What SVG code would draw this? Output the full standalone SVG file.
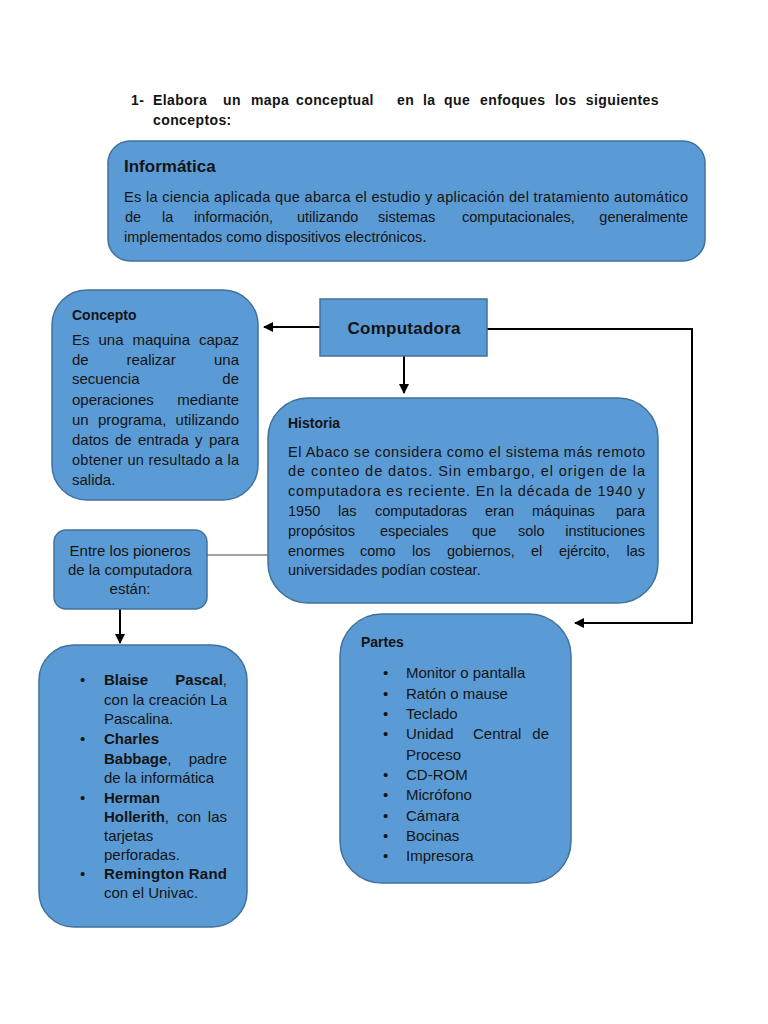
<svg xmlns="http://www.w3.org/2000/svg" width="768" height="1024" viewBox="0 0 768 1024">
<style>
  .box { fill: #5B9BD5; stroke: #41719C; stroke-width: 1.5; }
  .t { font-family: "Liberation Sans", Arial, sans-serif; font-size: 14.5px; fill: #141414; }
  .s15 { font-size: 15px; }
  .b { font-weight: bold; }
  .h { font-family: "Liberation Sans", Arial, sans-serif; font-size: 14px; font-weight: bold; fill: #141414; }
  .title { font-family: "Liberation Sans", Arial, sans-serif; font-size: 14px; font-weight: bold; fill: #141414; letter-spacing: 0.4px; }
  .conn { stroke: #000; stroke-width: 2; fill: none; }
  .thin { stroke: #444; stroke-width: 1; fill: none; }
  .end { text-anchor: end; }
  .mid { text-anchor: middle; }
</style>
<defs>
  <marker id="arr" viewBox="0 0 10 10" refX="9" refY="5" markerWidth="5" markerHeight="5" orient="auto" markerUnits="strokeWidth">
    <path d="M0,0 L10,5 L0,10 z" fill="#000"/>
  </marker>
</defs>
<rect width="768" height="1024" fill="#fff"/>

<g id="title">
  <text class="title" x="131" y="105">1-</text>
  <text class="title" x="153" y="105">Elabora</text>
  <text class="title" x="223" y="105">un</text>
  <text class="title" x="251" y="105">mapa</text>
  <text class="title" x="296" y="105">conceptual</text>
  <text class="title" x="397" y="105">en</text>
  <text class="title" x="423" y="105">la</text>
  <text class="title" x="444" y="105">que</text>
  <text class="title" x="480" y="105">enfoques</text>
  <text class="title" x="555" y="105">los</text>
  <text class="title end" x="659" y="105">siguientes</text>
  <text class="title" x="153" y="125">conceptos:</text>
</g>

<g id="connectors">
  <line class="conn" x1="320" y1="327" x2="264" y2="327" marker-end="url(#arr)"/>
  <line class="conn" x1="404" y1="356" x2="404" y2="393" marker-end="url(#arr)"/>
  <polyline class="conn" points="487,329 692,329 692,623 575,623" marker-end="url(#arr)"/>
  <line class="thin" x1="207" y1="555" x2="268" y2="555"/>
  <line class="conn" x1="120" y1="609" x2="120" y2="643" marker-end="url(#arr)"/>
</g>

<g id="informatica">
  <rect class="box" x="108" y="141" width="597" height="120" rx="22"/>
  <text class="t b" x="124" y="172" style="font-size:17px">Informática</text>
  <text class="t" x="124" y="202" textLength="564" lengthAdjust="spacing">Es la ciencia aplicada que abarca el estudio y aplicación del tratamiento automático</text>
  <text class="t" x="125" y="222">de</text>
  <text class="t" x="162" y="222">la</text>
  <text class="t" x="194" y="222">información,</text>
  <text class="t" x="297" y="222">utilizando</text>
  <text class="t" x="378" y="222">sistemas</text>
  <text class="t" x="462" y="222">computacionales,</text>
  <text class="t end" x="688" y="222">generalmente</text>
  <text class="t" x="124" y="242">implementados como dispositivos electrónicos<tspan style="font-size:16px">.</tspan></text>
</g>

<g id="concepto">
  <rect class="box" x="52" y="290" width="206" height="210" rx="35"/>
  <text class="h" x="72" y="320">Concepto</text>
  <text class="t s15" x="72" y="345">Es</text>
  <text class="t s15" x="98.5" y="345">una</text>
  <text class="t s15" x="132.5" y="345">maquina</text>
  <text class="t s15 end" x="239" y="345">capaz</text>
  <text class="t s15" x="72" y="365">de</text>
  <text class="t s15" x="126.5" y="365">realizar</text>
  <text class="t s15 end" x="239" y="365">una</text>
  <text class="t s15" x="72" y="384">secuencia</text>
  <text class="t s15 end" x="239" y="384">de</text>
  <text class="t s15" x="72" y="405">operaciones</text>
  <text class="t s15 end" x="239" y="405">mediante</text>
  <text class="t s15" x="72" y="425">un</text>
  <text class="t s15" x="98" y="425">programa,</text>
  <text class="t s15 end" x="239" y="425">utilizando</text>
  <text class="t s15" x="72" y="445">datos</text>
  <text class="t s15" x="115" y="445">de</text>
  <text class="t s15" x="138" y="445">entrada</text>
  <text class="t s15" x="195" y="445">y</text>
  <text class="t s15 end" x="239" y="445">para</text>
  <text class="t" x="72" y="465" textLength="167" lengthAdjust="spacing">obtener un resultado a la</text>
  <text class="t s15" x="72" y="485">salida.</text>
</g>

<g id="computadora">
  <rect class="box" x="320" y="299" width="167" height="57"/>
  <text class="t b mid" x="404" y="334" style="font-size:17px" textLength="113" lengthAdjust="spacing">Computadora</text>
</g>

<g id="historia">
  <rect class="box" x="268" y="398" width="390" height="205" rx="40"/>
  <text class="h" x="288" y="428">Historia</text>
  <text class="t" x="288" y="457" textLength="357" lengthAdjust="spacing">El Abaco se considera como el sistema más remoto</text>
  <text class="t" x="288" y="476" textLength="357" lengthAdjust="spacing">de conteo de datos. Sin embargo, el origen de la</text>
  <text class="t" x="288" y="496" textLength="357" lengthAdjust="spacing">computadora es reciente. En la década de 1940 y</text>
  <text class="t" x="288" y="516">1950</text>
  <text class="t" x="338" y="516">las</text>
  <text class="t" x="375" y="516">computadoras</text>
  <text class="t" x="485" y="516">eran</text>
  <text class="t" x="532" y="516">máquinas</text>
  <text class="t end" x="645" y="516">para</text>
  <text class="t" x="288" y="536">propósitos</text>
  <text class="t" x="380" y="536">especiales</text>
  <text class="t" x="472" y="536">que</text>
  <text class="t" x="518" y="536">solo</text>
  <text class="t end" x="645" y="536">instituciones</text>
  <text class="t" x="288" y="556">enormes</text>
  <text class="t" x="360" y="556">como</text>
  <text class="t" x="412" y="556">los</text>
  <text class="t" x="447" y="556">gobiernos,</text>
  <text class="t" x="531" y="556">el</text>
  <text class="t" x="559" y="556">ejército,</text>
  <text class="t end" x="645" y="556">las</text>
  <text class="t" x="288" y="575">universidades podían costear.</text>
</g>

<g id="pioneros">
  <rect class="box" x="54" y="530" width="153" height="79" rx="12"/>
  <text class="t s15 mid" x="130" y="556">Entre los pioneros</text>
  <text class="t s15 mid" x="130" y="575">de la computadora</text>
  <text class="t s15 mid" x="130" y="594">están:</text>
</g>

<g id="lista-pioneros">
  <rect class="box" x="39" y="645" width="208" height="282" rx="35"/>
  <text class="t s15" x="80" y="685">•</text>
  <text class="t s15 b" x="104" y="685">Blaise</text>
  <text class="t s15 end" x="227" y="685"><tspan class="b">Pascal</tspan>,</text>
  <text class="t s15" x="104" y="705" textLength="123" lengthAdjust="spacing">con la creación La</text>
  <text class="t s15" x="104" y="724">Pascalina.</text>
  <text class="t s15" x="80" y="744">•</text>
  <text class="t s15 b" x="104" y="744">Charles</text>
  <text class="t s15" x="104" y="764"><tspan class="b">Babbage</tspan>,</text>
  <text class="t s15 end" x="227" y="764">padre</text>
  <text class="t s15" x="104" y="783">de la informática</text>
  <text class="t s15" x="80" y="803">•</text>
  <text class="t s15 b" x="104" y="803">Herman</text>
  <text class="t s15" x="104" y="822"><tspan class="b">Hollerith</tspan>,</text>
  <text class="t s15" x="177" y="822">con</text>
  <text class="t s15 end" x="227" y="822">las</text>
  <text class="t s15" x="104" y="841">tarjetas</text>
  <text class="t s15" x="104" y="860">perforadas.</text>
  <text class="t s15" x="80" y="879">•</text>
  <text class="t s15 b" x="104" y="879" textLength="123" lengthAdjust="spacing">Remington Rand</text>
  <text class="t s15" x="104" y="898">con el Univac.</text>
</g>

<g id="partes">
  <rect class="box" x="340" y="614" width="231" height="269" rx="42"/>
  <text class="h" x="361" y="647">Partes</text>
  <text class="t s15" x="383" y="678">•</text>
  <text class="t s15" x="406" y="678">Monitor o pantalla</text>
  <text class="t s15" x="383" y="699">•</text>
  <text class="t s15" x="406" y="699">Ratón o mause</text>
  <text class="t s15" x="383" y="719">•</text>
  <text class="t s15" x="406" y="719">Teclado</text>
  <text class="t s15" x="383" y="739">•</text>
  <text class="t s15" x="406" y="739">Unidad</text>
  <text class="t s15" x="473" y="739">Central</text>
  <text class="t s15 end" x="549" y="739">de</text>
  <text class="t s15" x="406" y="760">Proceso</text>
  <text class="t s15" x="383" y="780">•</text>
  <text class="t s15" x="406" y="780">CD-ROM</text>
  <text class="t s15" x="383" y="800">•</text>
  <text class="t s15" x="406" y="800">Micrófono</text>
  <text class="t s15" x="383" y="821">•</text>
  <text class="t s15" x="406" y="821">Cámara</text>
  <text class="t s15" x="383" y="841">•</text>
  <text class="t s15" x="406" y="841">Bocinas</text>
  <text class="t s15" x="383" y="861">•</text>
  <text class="t s15" x="406" y="861">Impresora</text>
</g>
</svg>
